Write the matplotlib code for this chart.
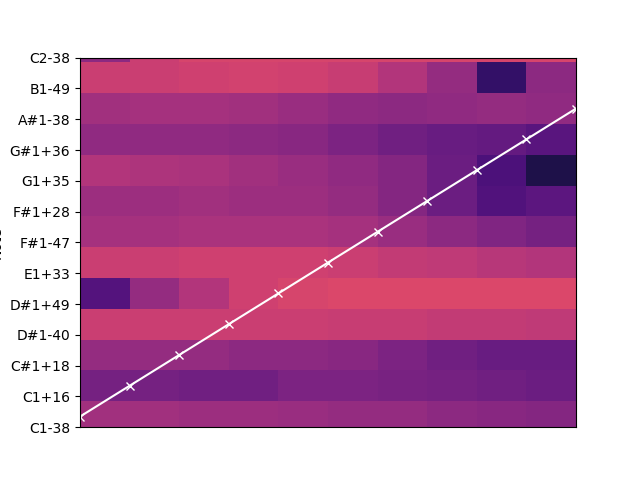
import numpy as np
import matplotlib
matplotlib.use("Agg")
import matplotlib.pyplot as plt

note_labels = ["C1-38", "C1+16", "C#1+18", "D#1-40", "D#1+49", "E1+33",
               "F#1-47", "F#1+28", "G1+35", "G#1+36", "A#1-38", "B1-49", "C2-38"]

# rows listed bottom to top, 10 frames each (magma scale 0..1)
row00 = [0.45, 0.45, 0.44, 0.44, 0.43, 0.42, 0.42, 0.40, 0.39, 0.38]
row01 = [0.34, 0.34, 0.33, 0.33, 0.36, 0.36, 0.35, 0.34, 0.33, 0.32]
row02 = [0.42, 0.42, 0.42, 0.40, 0.40, 0.39, 0.36, 0.33, 0.31, 0.31]
row03 = [0.55, 0.55, 0.55, 0.55, 0.55, 0.54, 0.54, 0.53, 0.53, 0.52]
row04 = [0.26, 0.42, 0.49, 0.56, 0.58, 0.59, 0.59, 0.59, 0.59, 0.59]
row05 = [0.55, 0.55, 0.56, 0.56, 0.56, 0.55, 0.53, 0.52, 0.50, 0.49]
row06 = [0.46, 0.46, 0.47, 0.47, 0.47, 0.46, 0.43, 0.40, 0.37, 0.34]
row07 = [0.44, 0.44, 0.45, 0.44, 0.44, 0.42, 0.38, 0.32, 0.25, 0.28]
row08 = [0.49, 0.48, 0.47, 0.45, 0.43, 0.41, 0.38, 0.32, 0.24, 0.13]
row09 = [0.41, 0.41, 0.41, 0.40, 0.39, 0.36, 0.33, 0.31, 0.30, 0.27]
row10 = [0.45, 0.46, 0.46, 0.45, 0.43, 0.41, 0.40, 0.41, 0.42, 0.41]
row11 = [0.55, 0.55, 0.56, 0.57, 0.56, 0.54, 0.49, 0.42, 0.18, 0.40]
row12 = [0.40, 0.55, 0.58, 0.58, 0.58, 0.58, 0.58, 0.58, 0.58, 0.58]

# estimated pitch track (row index per frame edge)
track = [0, 1, 2, 3, 4, 5, 6, 7, 8, 9, 10]

C = np.array([row00, row01, row02, row03, row04, row05, row06,
              row07, row08, row09, row10, row11, row12])

n_rows, n_cols = C.shape
x_edges = np.arange(n_cols + 1)
y_edges = np.arange(n_rows + 1) - 0.155

fig, ax = plt.subplots(figsize=(6.4, 4.8), dpi=100)
ax.pcolormesh(x_edges, y_edges, C, cmap="magma", vmin=0, vmax=1)

centers = (y_edges[:-1] + y_edges[1:]) / 2
ax.plot(np.arange(len(track)), centers[track], color="white", marker="x")

ax.set_xlim(0, n_cols)
ax.set_ylim(0, 12)
ax.set_yticks(np.arange(len(note_labels)))
ax.set_yticklabels(note_labels)
ax.set_xticks([])
ax.set_ylabel("Note")

fig.savefig("out.png")
